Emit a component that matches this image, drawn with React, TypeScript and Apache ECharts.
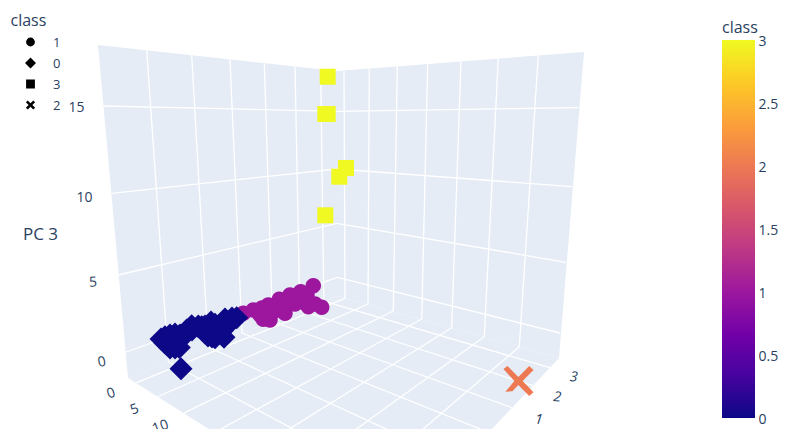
import React, { useEffect, useRef } from "react";
import * as echarts from "echarts";

const FONT = '"Open Sans", verdana, arial, sans-serif';
const INK = "#2a3f5f";
const WALL = "#E5ECF6";
const PLASMA = ["#0d0887", "#46039f", "#7201a8", "#9c179e", "#bd3786", "#d8576b", "#ed7953", "#fb9f3a", "#fdca26", "#f0f921"];

// Values, in the projected plane of the 3D scene.
const class1Points = [
  [313.3, 285.7], [321.7, 307.3], [308.3, 306.7], [285, 313.3], [270, 320], [263.3, 319.3],
  [253.3, 310], [243.3, 313.3], [268.3, 305], [279.3, 299.3], [290, 295], [300.7, 291.7],
  [295, 304], [276.7, 310], [260, 315], [286.7, 301.7], [300, 301.7], [307, 295],
  [275, 305], [290, 300], [272, 313], [282, 308], [262, 308], [303, 298], [297, 298], [315, 304],
];
const class0Points = [
  [161, 339], [165, 336.7], [170, 335], [171.7, 343.3], [179.3, 347.5], [175, 340], [180, 335],
  [186.7, 330], [191.7, 325.7], [198.3, 326.7], [201.7, 326.7], [198.3, 326], [208.3, 330],
  [215, 324.3], [215, 337.7], [224, 337.3], [218.3, 330], [225, 319], [230, 321.7],
  [236.7, 317.7], [181, 368.7], [165, 343], [170, 348], [175, 348], [184, 336], [192, 330], [205, 326],
  [212, 330], [222, 326], [232, 318], [187, 332], [175, 334], [222, 331], [228, 325], [211, 322],
  [208, 336], [212, 337], [205, 333], [218, 334],
];
const class3Points = [[327.7, 76.7], [325.3, 114], [327.7, 114], [346, 168], [339.3, 176.7], [325.3, 215.3]];
const class2Points = [[518.5, 381]];
const legendOrder = ["1", "0", "3", "2"];
const colorbarTicks = ["3", "2.5", "2", "1.5", "1", "0.5", "0"];

// Scene box
const leftCorner = [128, 378];
const backFloor = [337, 296];
const rightCorner = [559, 358];
const frontCorner = [386, 541];
const topLeft = [98, 45];
const topBack = [337, 71];
const topRight = [584, 52];
const walls = [
  [topLeft, topBack, backFloor, leftCorner],
  [topBack, topRight, rightCorner, backFloor],
  [leftCorner, backFloor, rightCorner, frontCorner],
];

// Wall verticals as [top, foot]
const leftVerticals = [
  [[146.7, 50], [168.4, 362]], [[191.7, 55], [208.2, 347]], [[230, 59.3], [242, 333]],
  [[264.3, 63.3], [272.5, 321.5]], [[295, 66.7], [299.8, 310.5]], [[320.7, 69.3], [323.8, 301.2]],
];
const rightVerticals = [
  [[344, 71], [345, 298.3]], [[369.3, 68.3], [368, 304]], [[397.3, 66], [393.3, 311]],
  [[427.7, 64], [421.7, 319]], [[461, 61], [451.7, 327.7]], [[498.3, 58.3], [484.3, 336.7]],
  [[538.3, 55], [519.3, 346.7]],
];
// Height lines as left end, back kink, right end
const heightLines = [
  [[103.3, 106], [336.7, 111.3], [578.3, 107.7]],
  [[111.7, 193.3], [336.7, 169], [572.3, 186.7]],
  [[118.3, 275], [336.7, 223.3], [566, 262.3]],
  [[126, 352], [337.3, 277.3], [560, 333]],
];

const cross = (a: number[], b: number[], c: number[], d: number[]) => {
  const a1 = b[1] - a[1], b1 = a[0] - b[0], c1 = a1 * a[0] + b1 * a[1];
  const a2 = d[1] - c[1], b2 = c[0] - d[0], c2 = a2 * c[0] + b2 * c[1];
  const det = a1 * b2 - a2 * b1;
  return [(b2 * c1 - b1 * c2) / det, (a1 * c2 - a2 * c1) / det];
};
const vanishA = cross(backFloor, leftCorner, rightCorner, frontCorner);
const vanishB = cross(backFloor, rightCorner, leftCorner, frontCorner);

const segments: number[][][] = [];
leftVerticals.forEach((s) => segments.push(s));
rightVerticals.forEach((s) => segments.push(s));
heightLines.forEach((l) => { segments.push([l[0], l[1]]); segments.push([l[1], l[2]]); });
rightVerticals.forEach((s) => segments.push([s[1], cross(s[1], vanishA, leftCorner, frontCorner)]));
leftVerticals.forEach((s) => segments.push([s[1], cross(s[1], vanishB, rightCorner, frontCorner)]));

const withClass = (pts: number[][], c: number) => pts.map((p) => [p[0], p[1], c]);

const XMARK = "path://M0 9L12 0L45 33L78 0L91 12L58 45L91 79L78 90L45 57L27 76L6 77L33 45Z";
const frame = "M0 0L0.01 0ZM100 100L99.99 100Z";
const ICONS = [
  "path://M10 50A40 40 0 1 1 90 50A40 40 0 1 1 10 50Z" + frame,
  "path://M50 0L100 50L50 100L0 50Z" + frame,
  "path://M10 10L90 10L90 90L10 90Z" + frame,
  "path://M8 25L25 8L50 33L75 8L92 25L67 50L92 75L75 92L50 67L25 92L8 75L33 50Z" + frame,
];

const txt = (text: string, x: number, y: number, size: number, rot = 0, align = "center", italic = false) => ({
  type: "text", x, y, rotation: rot, z: 50,
  style: { text, fontFamily: FONT, fontSize: size, fontStyle: italic ? "italic" : "normal", fill: INK, textAlign: align, textVerticalAlign: "middle" },
});

export default function App() {
  const ref = useRef<HTMLDivElement>(null);
  useEffect(() => {
    const chart = echarts.init(ref.current!, null, { renderer: "svg" });
    const scatter = (name: string, data: number[][], c: number, symbol: string, size: number) => ({
      type: "scatter", name, data: withClass(data, c), symbol, symbolSize: size, z: 5,
      encode: { x: 0, y: 1 }, silent: true, itemStyle: { opacity: 1 },
    });
    const barTop = 40, barHeight = 378;
    chart.setOption({
      animation: false,
      backgroundColor: "#fff",
      grid: { left: 0, top: 0, width: 792, height: 429, show: false },
      xAxis: { type: "value", min: 0, max: 792, show: false },
      yAxis: { type: "value", min: 0, max: 429, inverse: true, show: false },
      legend: {
        orient: "vertical", left: 25, top: 35.5, padding: 0, itemWidth: 11, itemHeight: 11, itemGap: 8,
        selectedMode: false,
        textStyle: { color: INK, fontFamily: FONT, fontSize: 13, padding: [0, 0, 0, 12], lineHeight: 13 },
        data: legendOrder.map((name, i) => ({ name, icon: ICONS[i], itemStyle: { color: "#000" } })),
      },
      visualMap: {
        type: "continuous", min: 0, max: 3, dimension: 2, seriesIndex: [2, 3, 4, 5],
        show: false, inRange: { color: PLASMA },
      },
      series: [
        {
          type: "custom", silent: true, clip: true, z: 1, data: walls.map((_, i) => [i]),
          renderItem: (p: any, api: any) => ({
            type: "polygon",
            shape: { points: walls[p.dataIndex].map((pt) => api.coord(pt)) },
            style: { fill: WALL },
          }),
        },
        {
          type: "custom", silent: true, clip: true, z: 2, data: segments.map((_, i) => [i]),
          renderItem: (p: any, api: any) => {
            const [a, b] = segments[p.dataIndex].map((pt) => api.coord(pt));
            return {
              type: "line",
              shape: { x1: a[0], y1: a[1], x2: b[0], y2: b[1] },
              style: { stroke: "#fff", lineWidth: 1.3, fill: null },
            };
          },
        },
        scatter("1", class1Points, 1, "circle", 15.5),
        scatter("0", class0Points, 0, "diamond", 23),
        scatter("3", class3Points, 3, "rect", 16),
        scatter("2", class2Points, 2, XMARK, 30),
      ],
      graphic: [
        { type: "rect", z: 40, shape: { x: 0, y: 429, width: 792, height: 8 }, style: { fill: "#fff" } },
        {
          type: "rect", z: 40, shape: { x: 722, y: barTop, width: 33, height: barHeight },
          style: {
            fill: new echarts.graphic.LinearGradient(0, 1, 0, 0,
              PLASMA.map((color, i) => ({ offset: i / (PLASMA.length - 1), color }))),
          },
        },
        txt("class", 10.5, 20, 16, 0, "left"),
        txt("class", 722, 27, 16, 0, "left"),
        txt("PC 3", 23, 233, 17, 0, "left"),
        txt("15", 76.5, 106.5, 14),
        txt("10", 84.5, 196, 14),
        txt("5", 93, 281, 14, 0.05),
        txt("0", 101.7, 360.7, 14, 0.2),
        txt("0", 110.7, 392.3, 14, 0.35),
        txt("5", 134, 408.3, 14, 0.35),
        { ...txt("10", 160, 425.5, 14, 0.35), z: 30 },
        txt("3", 574, 376, 14, -0.1, "center", true),
        txt("2", 557.3, 396, 14, -0.1, "center", true),
        txt("1", 539, 418.3, 14, -0.1, "center", true),
        ...colorbarTicks.map((t, i) => txt(t, 758.5, barTop + 0.5 + (barHeight * i) / (colorbarTicks.length - 1), 14, 0, "left")),
      ],
    });
    return () => chart.dispose();
  }, []);
  return <div ref={ref} style={{ position: "absolute", left: 0, top: 0, width: 792, height: 437 }} />;
}
